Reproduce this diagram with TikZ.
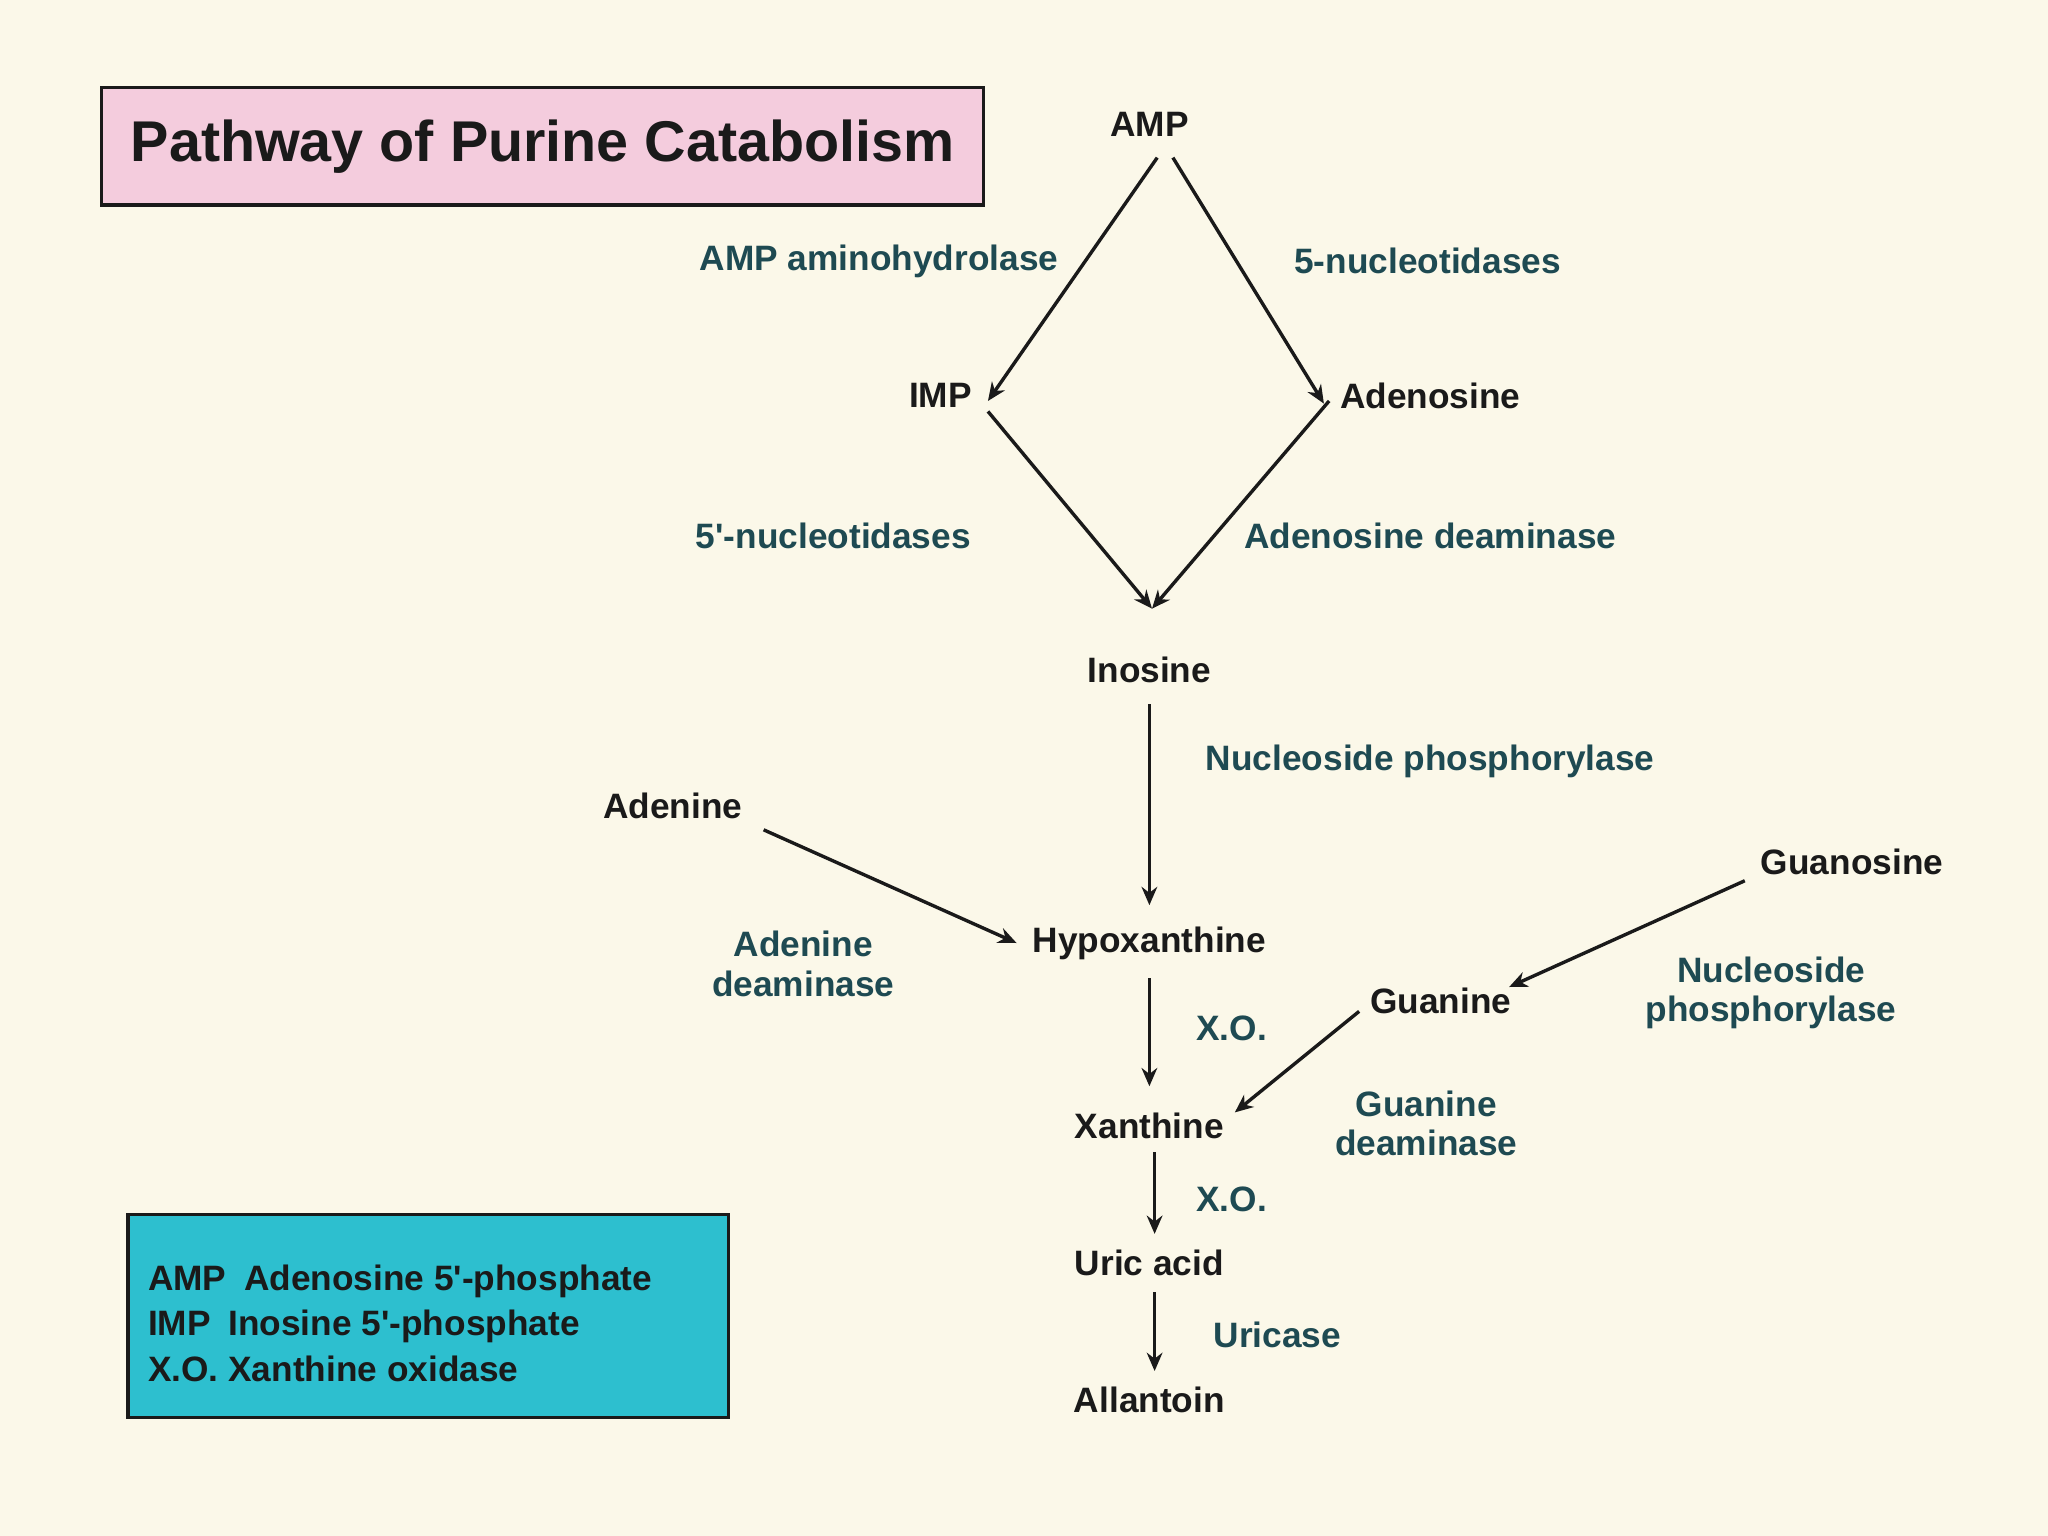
\documentclass[tikz,border=0pt]{standalone}
\usepackage{fontspec}
\setmainfont{Liberation Sans}
\usetikzlibrary{arrows.meta}
\definecolor{bg}{HTML}{FBF8E9}
\definecolor{lab}{HTML}{1E4A52}
\definecolor{nd}{HTML}{1A1A1A}
\definecolor{pinkbox}{HTML}{F4CCDD}
\definecolor{cyanbox}{HTML}{2DBFCF}
\begin{document}
\begin{tikzpicture}[x=0.5pt,y=-0.5pt,
  met/.style={text=nd,font=\bfseries\fontsize{13.5}{15}\selectfont,inner sep=2pt},
  enz/.style={text=lab,font=\bfseries\fontsize{13.5}{15}\selectfont,align=center,inner sep=1pt},
  arr/.style={draw=nd,line width=1.3pt,-{Stealth[length=7pt,width=6pt]}}]
\fill[bg] (0,0) rectangle (1568,1176);
\useasboundingbox (0,0) rectangle (1568,1176);
\node[draw=nd,line width=1.2pt,fill=pinkbox,minimum width=337.5pt,minimum height=45pt,font=\bfseries\fontsize{22}{24}\selectfont,text=nd] (title) at (415.5,112) {Pathway of Purine Catabolism};
\node[met] (amp) at (880,95) {AMP};
\node[met] (imp) at (720,303) {IMP};
\node[met] (ado) at (1095,303) {Adenosine};
\node[met] (ino) at (880,513) {Inosine};
\node[met] (hyp) at (880,722) {Hypoxanthine};
\node[met] (ade) at (515,617) {Adenine};
\node[met] (guo) at (1418,660) {Guanosine};
\node[met] (gua) at (1103,766) {Guanine};
\node[met] (xan) at (880,862) {Xanthine};
\node[met] (uric) at (880,967) {Uric acid};
\node[met] (all) at (880,1072) {Allantoin};
\node[enz] (e1) at (673,200) {AMP aminohydrolase};
\node[enz] (e2) at (1093,200) {5-nucleotidases};
\node[enz] (e3) at (638,410) {5\textquotesingle-nucleotidases};
\node[enz] (e4) at (1095,410) {Adenosine deaminase};
\node[enz] (e5) at (1095,583) {Nucleoside phosphorylase};
\node[enz] (e6) at (615,738) {Adenine\\deaminase};
\node[enz] (e7) at (943,787) {X.O.};
\node[enz] (e8) at (1356,760) {Nucleoside\\phosphorylase};
\node[enz] (e9) at (1092,860) {Guanine\\deaminase};
\node[enz] (e10) at (943,918) {X.O.};
\node[enz] (e11) at (978,1022) {Uricase};
\coordinate (inotop) at (882,466);
\draw[arr] ([xshift=3pt,yshift=-6pt]amp.south) -- ([xshift=4pt,yshift=-2pt]imp.east);
\draw[arr] ([xshift=9pt,yshift=-6pt]amp.south) -- ([xshift=-4pt,yshift=-3pt]ado.west);
\draw[arr] ([xshift=4pt,yshift=-6pt]imp.east) -- (inotop);
\draw[arr] ([xshift=-2pt,yshift=-2pt]ado.west) -- (inotop);
\draw[arr] ([yshift=-6pt]ino.south) -- ([yshift=6pt]hyp.north);
\draw[arr] ([xshift=6pt,yshift=-2pt]ade.south east) -- ([xshift=-4pt]hyp.west);
\draw[arr] ([yshift=-5pt]hyp.south) -- ([yshift=8pt]xan.north);
\draw[arr] ([xshift=-4pt,yshift=0pt]guo.south west) -- ([xshift=-3pt,yshift=-2pt]gua.north east);
\draw[arr] ([xshift=-2pt,yshift=3pt]gua.south west) -- ([xshift=2pt,yshift=-2pt]xan.north east);
\draw[arr] ([xshift=2pt,yshift=-3pt]xan.south) -- ([xshift=2pt,yshift=4pt]uric.north);
\draw[arr] ([xshift=2pt,yshift=-4pt]uric.south) -- ([xshift=2pt,yshift=4pt]all.north);
\node[draw=nd,line width=1.2pt,fill=cyanbox,minimum width=230pt,minimum height=77.5pt] (leg) at (328,1007.5) {};
\node[anchor=west,text=nd,font=\bfseries\fontsize{13.5}{17.5}\selectfont,align=left,inner sep=0pt] (legt) at (113,1013) {AMP\enspace Adenosine 5\textquotesingle-phosphate\\IMP\enspace Inosine 5\textquotesingle-phosphate\\X.O. Xanthine oxidase};
\end{tikzpicture}
\end{document}
